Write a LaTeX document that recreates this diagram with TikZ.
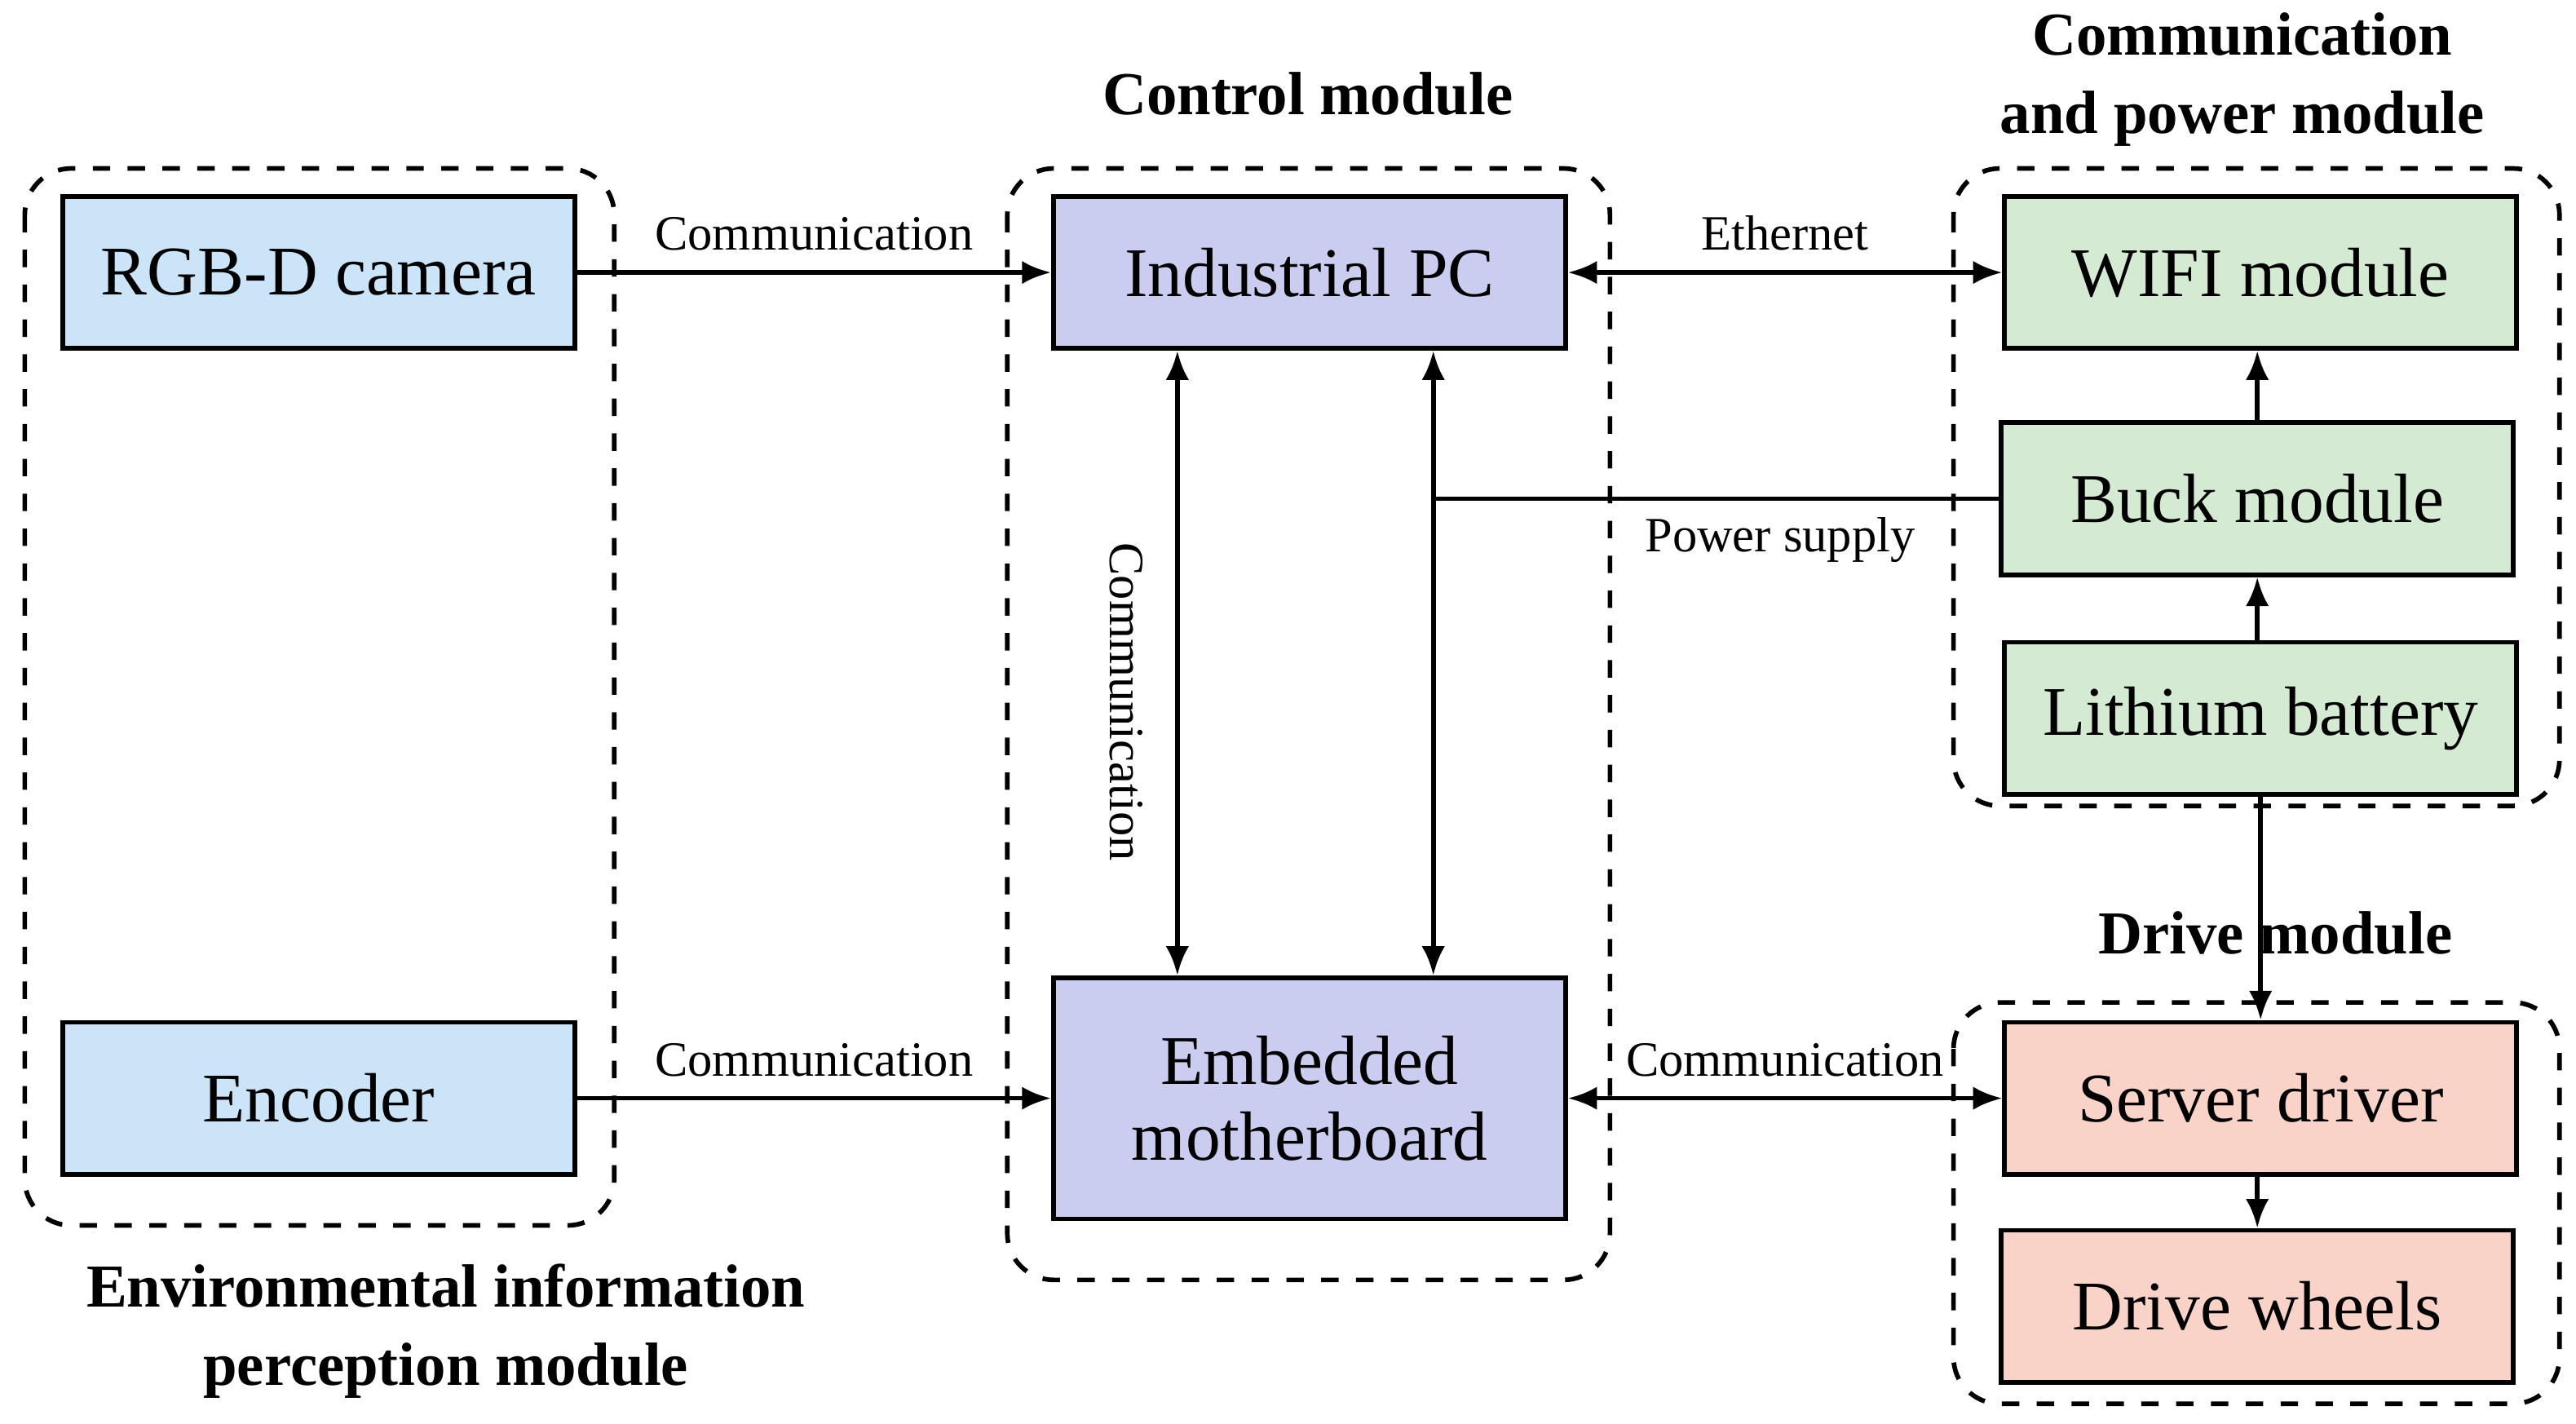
\documentclass[tikz,border=0pt]{standalone}
\usepackage{fontspec}
\setmainfont{Liberation Serif}
\usetikzlibrary{arrows.meta}
\definecolor{envblue}{HTML}{CCE4F7}
\definecolor{ctlblue}{HTML}{CACDF0}
\definecolor{comgreen}{HTML}{D5EAD2}
\definecolor{drvred}{HTML}{F9D2C8}
\begin{document}
\begin{tikzpicture}[x=0.01cm,y=-0.01cm,
	box/.style={draw,thick,minimum width=3.1cm,minimum height=0.92cm,font=\fontsize{12}{13}\selectfont,inner sep=0pt,align=center},
	grp/.style={draw,dashed,thick,rounded corners=8pt},
	title/.style={font=\bfseries\fontsize{10.5}{13.5}\selectfont,align=center},
	lbl/.style={font=\fontsize{8.5}{10}\selectfont},
	arr/.style={thick,-{Latex[length=5pt,width=4pt]}},
	darr/.style={thick,{Latex[length=5pt,width=4pt]}-{Latex[length=5pt,width=4pt]}}]
	\useasboundingbox (0,0) rectangle (1560,862);
	% groups
	\draw[grp] (15,102) rectangle (372,742);
	\draw[grp] (610,102) rectangle (975,775);
	\draw[grp] (1183,102) rectangle (1550,488);
	\draw[grp] (1183,607) rectangle (1550,850);
	% titles
	\node[title] (tctl) at (792,57) {Control module};
	\node[title] (tcom) at (1358,48) {Communication\\and power module};
	\node[title] (tdrv) at (1378,565) {Drive module};
	\node[title] (tenv) at (270,806) {Environmental information\\perception module};
	% boxes
	\node[box,fill=envblue] (rgbd) at (193,165) {RGB-D camera};
	\node[box,fill=envblue] (enc) at (193,665) {Encoder};
	\node[box,fill=ctlblue] (ipc) at (793,165) {Industrial PC};
	\node[box,fill=ctlblue,minimum height=1.46cm] (emb) at (793,665) {Embedded\\motherboard};
	\node[box,fill=comgreen] (wifi) at (1369,165) {WIFI module};
	\node[box,fill=comgreen] (buck) at (1367,302) {Buck module};
	\node[box,fill=comgreen] (bat) at (1369,435) {Lithium battery};
	\node[box,fill=drvred] (srv) at (1369,665) {Server driver};
	\node[box,fill=drvred] (whl) at (1367,791) {Drive wheels};
	% connectors
	\draw[arr] (rgbd) -- node[lbl,above] {Communication} (ipc);
	\draw[arr] (enc) -- node[lbl,above] {Communication} (enc -| emb.west);
	\draw[darr] (ipc) -- node[lbl,above] {Ethernet} (wifi);
	\draw[darr] (emb) -- node[lbl,above] {Communication} (emb -| srv.west);
	\draw[darr] (ipc.south -| 713,0) -- (emb.north -| 713,0);
	\node[lbl,rotate=-90] (vlbl) at (682,425) {Communication};
	\coordinate (pwr) at (868,302);
	\draw[thick] (buck.west) -- (pwr);
	\node[lbl] (plbl) at (1078,327) {Power supply};
	\draw[arr] (pwr) -- (ipc.south -| pwr);
	\draw[arr] (pwr) -- (emb.north -| pwr);
	\draw[arr] (buck) -- (buck.north |- wifi.south);
	\draw[arr] (bat.north -| buck) -- (buck);
	\draw[arr] (bat) -- (srv);
	\draw[arr] (srv.south -| whl) -- (whl);
\end{tikzpicture}
\end{document}
